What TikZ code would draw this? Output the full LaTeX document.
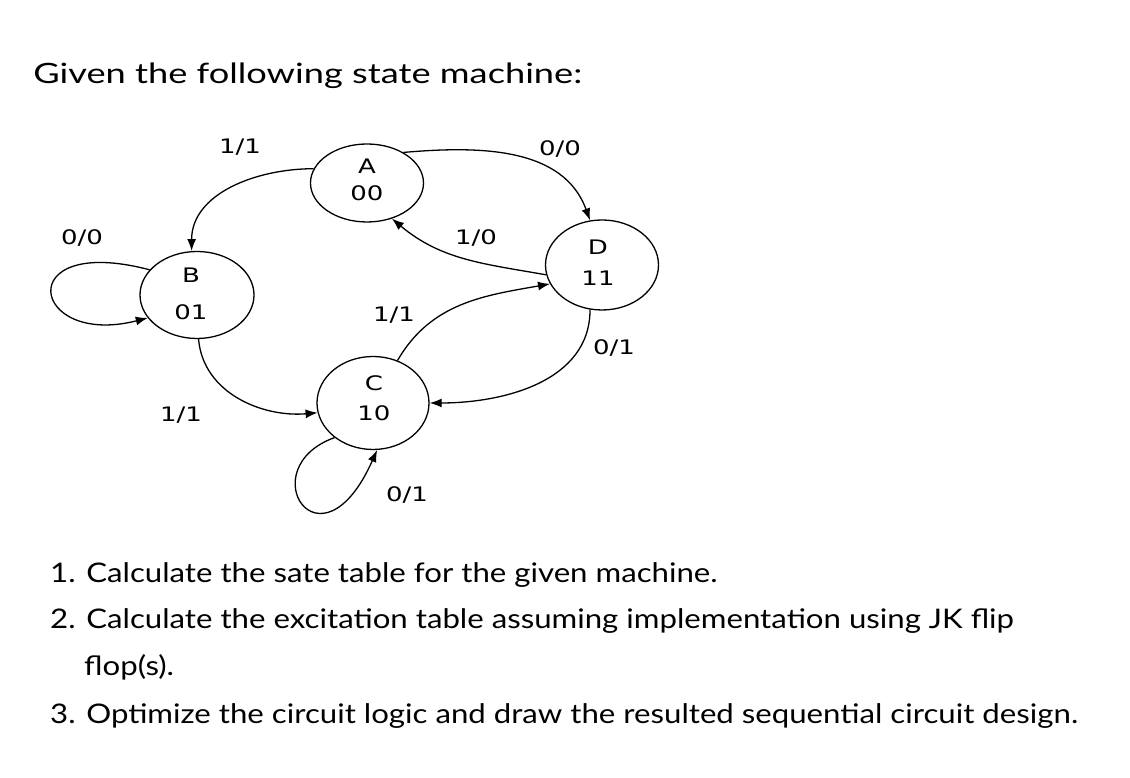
\documentclass[tikz,border=0pt]{standalone}
\usepackage{fontspec}
\setmainfont{Lato}
\newfontfamily\djsans{DejaVu Sans}
\usetikzlibrary{arrows.meta,shapes.geometric}
\begin{document}
\begin{tikzpicture}[x=1pt,y=1pt,
  st/.style={ellipse,draw,line width=1.3pt,inner sep=0pt},
  lab/.style={font=\djsans\fontsize{20}{22}\selectfont,inner sep=0pt,xscale=1.3,transform shape},
  ed/.style={line width=1.3pt,-{Latex[length=12pt,width=9pt]}},
  tx/.style={font=\fontsize{27}{32}\selectfont,anchor=west,inner sep=0pt,xscale=1.155,transform shape}]
\useasboundingbox (0,0) rectangle (1130,778);
\node[st,minimum width=113pt,minimum height=78pt] (A) at (367,595) {};
\node[st,minimum width=114pt,minimum height=87pt] (B) at (197,483) {};
\node[st,minimum width=113pt,minimum height=90pt] (D) at (602,513) {};
\node[st,minimum width=112pt,minimum height=93pt] (C) at (373,375) {};
\node[lab] (tA) at (367,612) {A}; \node[lab] (nA) at (367,585) {00};
\node[lab] (tB) at (191,503) {B}; \node[lab] (nB) at (191,466) {01};
\node[lab] (tD) at (598,531) {D}; \node[lab] (nD) at (598,500) {11};
\node[lab] (tC) at (374,395) {C}; \node[lab] (nC) at (374,365) {10};
\draw[ed] (A.165) to[out=180,in=90] (B.97);
\draw[ed] (A.40) to[out=5,in=110] (D.105);
\draw[ed] (D.190) to[out=170,in=-40] (A.-55);
\draw[ed] (C.60) to[out=60,in=190] (D.200);
\draw[ed] (D.-105) to[out=-90,in=0] (C.0);
\draw[ed] (B.-88) to[out=-85,in=185] (C.190);
\draw[ed] (B.152) .. controls (10,545) and (30,430) .. (B.205);
\draw[ed] (C.222) .. controls (250,310) and (320,200) .. (C.-85);
\node[lab] (l1) at (240,631) {1/1};
\node[lab] (l2) at (560,629) {0/0};
\node[lab] (l3) at (82,540) {0/0};
\node[lab] (l4) at (476,540) {1/0};
\node[lab] (l5) at (394,463) {1/1};
\node[lab] (l6) at (614,430) {0/1};
\node[lab] (l7) at (181,363) {1/1};
\node[lab] (l8) at (407,283) {0/1};
\node[tx,font=\fontsize{28}{32}\selectfont,xscale=1.12] (t0) at (33,702) {Given the following state machine:};
\node[tx] (t1) at (50,203) {1. Calculate the sate table for the given machine.};
\node[tx] (t2) at (50,157) {2. Calculate the excitation table assuming implementation using JK flip};
\node[tx] (t3) at (84,111) {flop(s).};
\node[tx] (t4) at (50,62) {3. Optimize the circuit logic and draw the resulted sequential circuit design.};
\end{tikzpicture}
\end{document}
